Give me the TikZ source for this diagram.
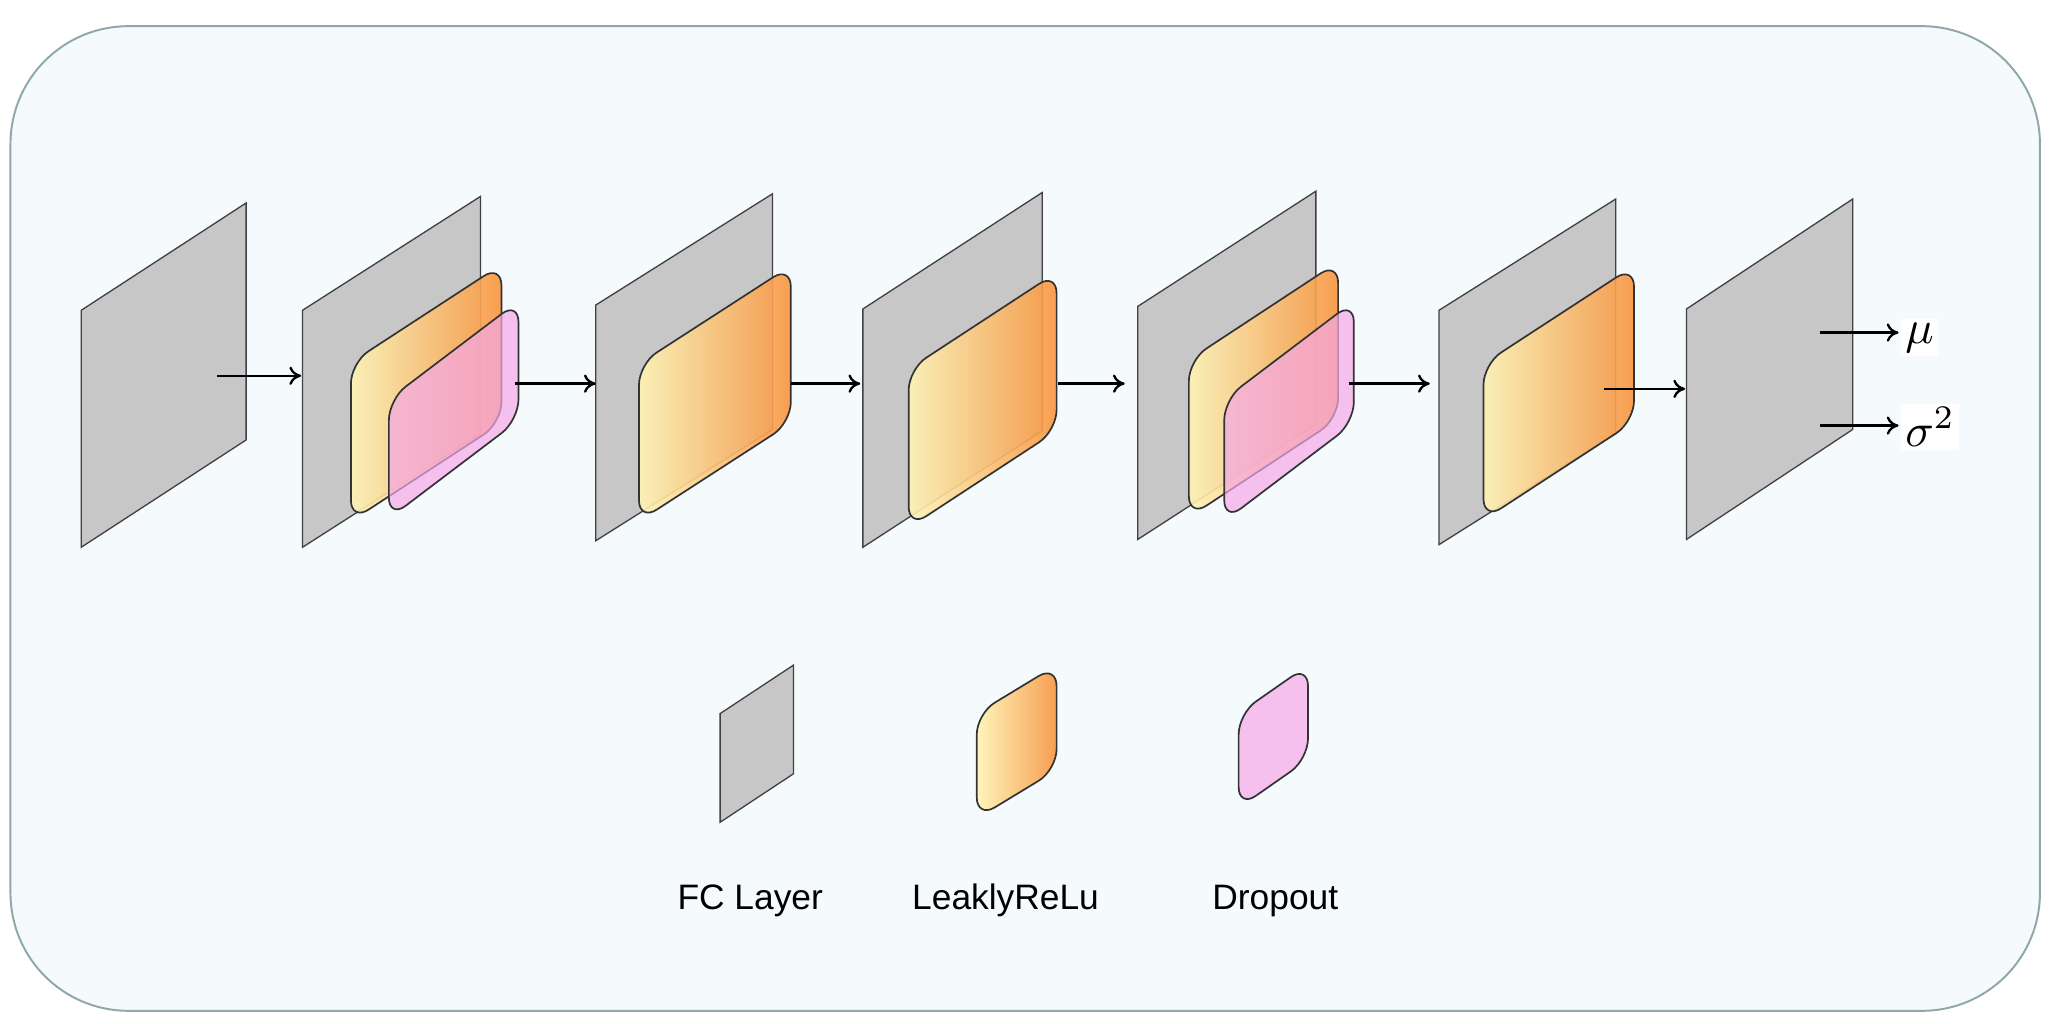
\documentclass[tikz,border=0pt]{standalone}
\usepackage{fontspec}
\setmainfont{Liberation Sans}
\usetikzlibrary{arrows.meta}
\begin{document}
\begin{tikzpicture}[x=1pt,y=-1pt,
  planestyle/.style={draw=black!75,fill=black!22,line width=1pt},
  relustyle/.style={draw=black!80,line width=1.3pt,rounded corners=16,left color=relyL,right color=relyR,fill opacity=0.9},
  dropstyle/.style={draw=black!80,line width=1.3pt,rounded corners=16,fill=dropC,fill opacity=0.7},
  arr/.style={-{To[length=9pt,width=14pt]},line width=1.8pt},
  lbl/.style={font=\fontsize{27}{32}\selectfont}]
\definecolor{bgC}{HTML}{F5FAFC}
\definecolor{bdC}{HTML}{8FA8A8}
\definecolor{relyL}{HTML}{FFF4B5}
\definecolor{relyR}{HTML}{F9953F}
\definecolor{dropC}{HTML}{F5A8E8}
\useasboundingbox (0,0) rectangle (1568,782);
\draw[bdC,fill=bgC,line width=1.5pt,rounded corners=90] (8,20) rectangle (1558,772);
\newcommand{\plane}[5]{\draw[planestyle] (#1,#2)--++(#3,-#4)--++(0,#5)--++(-#3,#4)--cycle;}
\newcommand{\relu}[5]{\path[relustyle] (#1,#2)--++(#3,-#4)--++(0,#5)--++(-#3,#4)--cycle;}
\newcommand{\drop}[5]{\path[dropstyle] (#1,#2)--++(#3,-#4)--++(0,#5)--++(-#3,#4)--cycle;}
\plane{62}{237}{126}{82}{181}
\plane{231}{237}{136}{87}{181}
\relu{268}{277}{115}{75}{121}
\drop{297}{305}{99}{75}{91}
\plane{455}{233}{135}{85}{180}
\relu{488}{278}{116}{75}{120}
\plane{659}{236}{137}{89}{182}
\relu{694}{282}{113}{74}{121}
\plane{869}{234}{136}{88}{178}
\relu{908}{275}{114}{75}{120}
\drop{935}{305}{99}{75}{93}
\plane{1099}{237}{135}{85}{179}
\relu{1133}{278}{115}{75}{119}
\plane{1288}{236}{127}{84}{176}
\foreach \n/\a/\b/\y in {a1/166/230/287,a2/393/455/293,a3/604/657/293,a4/808/859/293,a5/1030/1092/293,a6/1225/1287/297,a7/1390/1450/254,a8/1390/1450/325}{
  \coordinate (\n s) at (\a,\y); \coordinate (\n e) at (\b,\y);
  \draw[arr] (\n s)--(\n e);}
\node[fill=white,inner sep=3pt,anchor=west] (mu) at (1452,258) {\scalebox{3.6}{$\mu$}};
\node[fill=white,inner sep=3pt,anchor=west] (sig) at (1452,326) {\scalebox{3.6}{$\sigma^2$}};
\plane{550}{545}{56}{37}{83}
\relu{746}{545}{61}{37}{80}
\drop{946}{545}{53}{37}{72}
\node[lbl] (l1) at (573,688) {FC Layer};
\node[lbl] (l2) at (768,688) {LeaklyReLu};
\node[lbl] (l3) at (974,688) {Dropout};
\end{tikzpicture}
\end{document}
